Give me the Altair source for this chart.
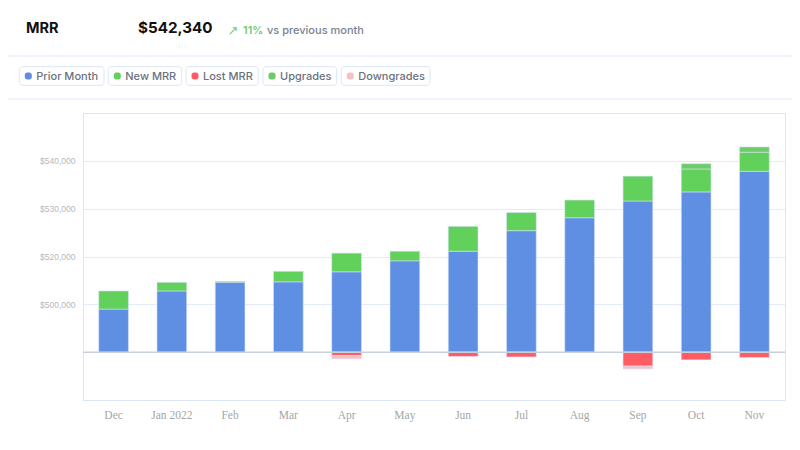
import altair as alt
import pandas as pd

# ---------------- data ----------------
months = ["Dec", "Jan 2022", "Feb", "Mar", "Apr", "May", "Jun", "Jul", "Aug", "Sep", "Oct", "Nov"]
prior_month = [9000, 12800, 14600, 14700, 16800, 19100, 21100, 25400, 28100, 31600, 33500, 37800]
new_mrr = [3800, 1800, 200, 2200, 3900, 2000, 5200, 3800, 3700, 5200, 4800, 4000]
lost_mrr = [0, 0, 0, 0, -700, 0, -900, -1000, 0, -2900, -1600, -1100]
upgrades = [0, 0, 0, 0, 0, 0, 0, 0, 0, 0, 1100, 1100]
downgrades = [0, 0, 0, 0, -700, 0, 0, 0, 0, -600, 0, 0]

series_names = ["Prior Month", "New MRR", "Lost MRR", "Upgrades", "Downgrades"]
series_colors = ["#5f8fe3", "#62d15c", "#ff5c66", "#6ccc66", "#f6c1c4"]
stack_order = [0, 1, 3, 2, 4]

y_tick_values = [10000, 20000, 30000, 40000]
y_tick_labels = ["$500,000", "$520,000", "$530,000", "$540,000"]

header_title = "MRR"
header_value = "$542,340"
header_change = "11%"
header_note = "vs previous month"

# ---------------- layout (pixels, plot-relative) ----------------
W, H = 702, 287
PAD = {"left": 75, "top": 105, "right": 7, "bottom": 34}
legend_box_left = [-63.7, 25.3, 103, 180, 258.3]
legend_box_right = [21, 98.7, 175.3, 253.7, 347]
legend_top, legend_bottom = -46.3, -27.7

rows = []
for name, vals, o in zip(series_names, [prior_month, new_mrr, lost_mrr, upgrades, downgrades], stack_order):
    for m, v in zip(months, vals):
        if v != 0:
            rows.append({"month": m, "series": name, "value": v, "ord": o})
df = pd.DataFrame(rows)

label_expr = " : ".join(f"datum.value == {v} ? '{l}'" for v, l in zip(y_tick_values, y_tick_labels)) + " : ''"

one = alt.Data(values=[{}])

bars = alt.Chart(df).mark_bar(stroke="#d6e2fa", strokeWidth=0.8, strokeOpacity=0.7).encode(
    x=alt.X(
        "month:N", sort=months, title=None,
        scale=alt.Scale(paddingInner=0.49, paddingOuter=0.27),
        axis=alt.Axis(labelAngle=0, labelFont="Liberation Serif", labelFontSize=11.5,
                      labelColor="#a5a5a5", labelPadding=9, ticks=False, domain=False, grid=False),
    ),
    y=alt.Y(
        "value:Q", stack="zero", title=None,
        scale=alt.Scale(domain=[-10000, 50000], nice=False, zero=False),
        axis=alt.Axis(values=y_tick_values, labelExpr=label_expr, labelFont="Liberation Sans",
                      labelFontSize=8.5, labelColor="#b8b8b8", labelPadding=8, ticks=False,
                      domain=False, gridColor="#e3ebfa", gridWidth=1),
    ),
    color=alt.Color("series:N", scale=alt.Scale(domain=series_names, range=series_colors), legend=None),
    order=alt.Order("ord:Q", sort="ascending"),
)

zero_rule = alt.Chart(one).mark_rule(color="#c9cfd9", strokeWidth=1.5).encode(y=alt.datum(0))

layers = [bars, zero_rule]

# separator lines
for yy in [-57, -14]:
    layers.append(
        alt.Chart(one).mark_rule(color="#dfe8f7", strokeWidth=1).encode(
            x=alt.value(-PAD["left"]), x2=alt.value(W + PAD["right"]), y=alt.value(yy)
        )
    )

# header texts
layers.append(alt.Chart(one).mark_text(text=header_title, font="Inter", fontSize=14.5, fontWeight=700,
                                       color="#111111", align="left", baseline="alphabetic")
              .encode(x=alt.value(-57), y=alt.value(-80)))
layers.append(alt.Chart(one).mark_text(text=header_value, font="Inter", fontSize=15.2, fontWeight=700,
                                       color="#111111", align="left", baseline="alphabetic")
              .encode(x=alt.value(55), y=alt.value(-80)))
layers.append(alt.Chart(one).mark_text(text="↗", font="DejaVu Sans", fontSize=13,
                                       color="#72cf6c", align="left", baseline="alphabetic")
              .encode(x=alt.value(144.5), y=alt.value(-78.5)))
layers.append(alt.Chart(one).mark_text(text=header_change, font="Inter", fontSize=11, fontWeight=600,
                                       color="#6fcc6a", align="left", baseline="alphabetic")
              .encode(x=alt.value(160), y=alt.value(-79)))
layers.append(alt.Chart(one).mark_text(text=header_note, font="Inter", fontSize=11, fontWeight=500,
                                       color="#7a8190", align="left", baseline="alphabetic")
              .encode(x=alt.value(184), y=alt.value(-79)))

# custom legend
ymid = (legend_top + legend_bottom) / 2
for name, col, x0, x1 in zip(series_names, series_colors, legend_box_left, legend_box_right):
    layers.append(alt.Chart(one).mark_rect(fill="white", stroke="#dbe6f7", strokeWidth=1, cornerRadius=3)
                  .encode(x=alt.value(x0), x2=alt.value(x1), y=alt.value(legend_top), y2=alt.value(legend_bottom)))
    layers.append(alt.Chart(one).mark_rect(fill=col, cornerRadius=2.5)
                  .encode(x=alt.value(x0 + 5.5), x2=alt.value(x0 + 12.5), y=alt.value(ymid - 3.5), y2=alt.value(ymid + 3.5)))
    layers.append(alt.Chart(one).mark_text(text=name, font="Inter", fontSize=11, fontWeight=500,
                                           color="#6b7280", align="left", baseline="middle")
                  .encode(x=alt.value(x0 + 17), y=alt.value(ymid + 0.5)))

chart = alt.layer(*layers).properties(
    width=W, height=H,
    autosize=alt.AutoSizeParams(type="none"),
    padding=PAD,
    background="white",
).configure_view(stroke="#dbe5f8", strokeWidth=1)

chart.save("out.html", embed_options={"renderer": "svg", "actions": False})
